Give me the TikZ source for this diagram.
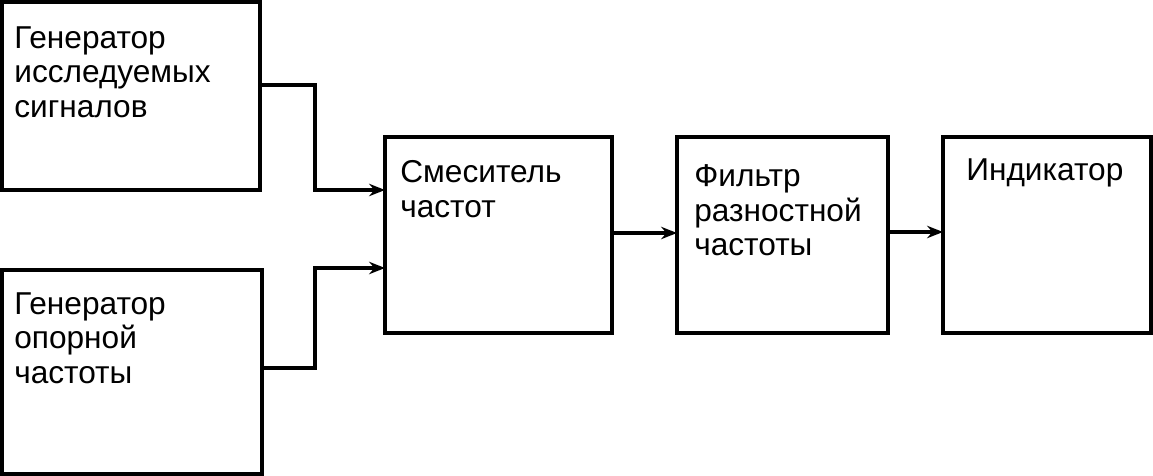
\documentclass[tikz,border=0pt]{standalone}
\usepackage{fontspec}
\setmainfont{Liberation Sans}
\usetikzlibrary{arrows.meta}
\begin{document}
\begin{tikzpicture}[x=0.02cm,y=-0.02cm,
  blk/.style={draw,line width=2.2pt,inner sep=0pt},
  lbl/.style={anchor=north west,align=left,font=\fontsize{18}{19.8}\selectfont,inner sep=0pt},
  conn/.style={line width=2pt,-{Stealth[length=9pt,width=7pt]}}]
\useasboundingbox (0,0) rectangle (1153,476);
\draw[blk] (2,2) rectangle (260,190);
\node[lbl] (g1) at (14,26) {Генератор\\исследуемых\\сигналов};
\draw[blk] (2,270) rectangle (262,474);
\node[lbl] (g2) at (14,292) {Генератор\\опорной\\частоты};
\draw[blk] (385,137) rectangle (612,333);
\node[lbl] (m) at (400,160) {Смеситель\\частот};
\draw[blk] (677,137) rectangle (888,333);
\node[lbl] (f) at (694,164) {Фильтр\\разностной\\частоты};
\draw[blk] (943,137) rectangle (1151,333);
\node[lbl] (i) at (966,158) {Индикатор};
\coordinate (g1o) at (260,85);
\coordinate (g2o) at (262,368);
\coordinate (mi1) at (385,190);
\coordinate (mi2) at (385,268);
\coordinate (mo) at (612,233);
\coordinate (fi) at (677,233);
\coordinate (fo) at (888,232);
\coordinate (ii) at (943,232);
\draw[conn] (g1o) -| (315,190) -- (mi1);
\draw[conn] (g2o) -| (315,268) -- (mi2);
\draw[conn] (mo) -- (fi);
\draw[conn] (fo) -- (ii);
\end{tikzpicture}
\end{document}
